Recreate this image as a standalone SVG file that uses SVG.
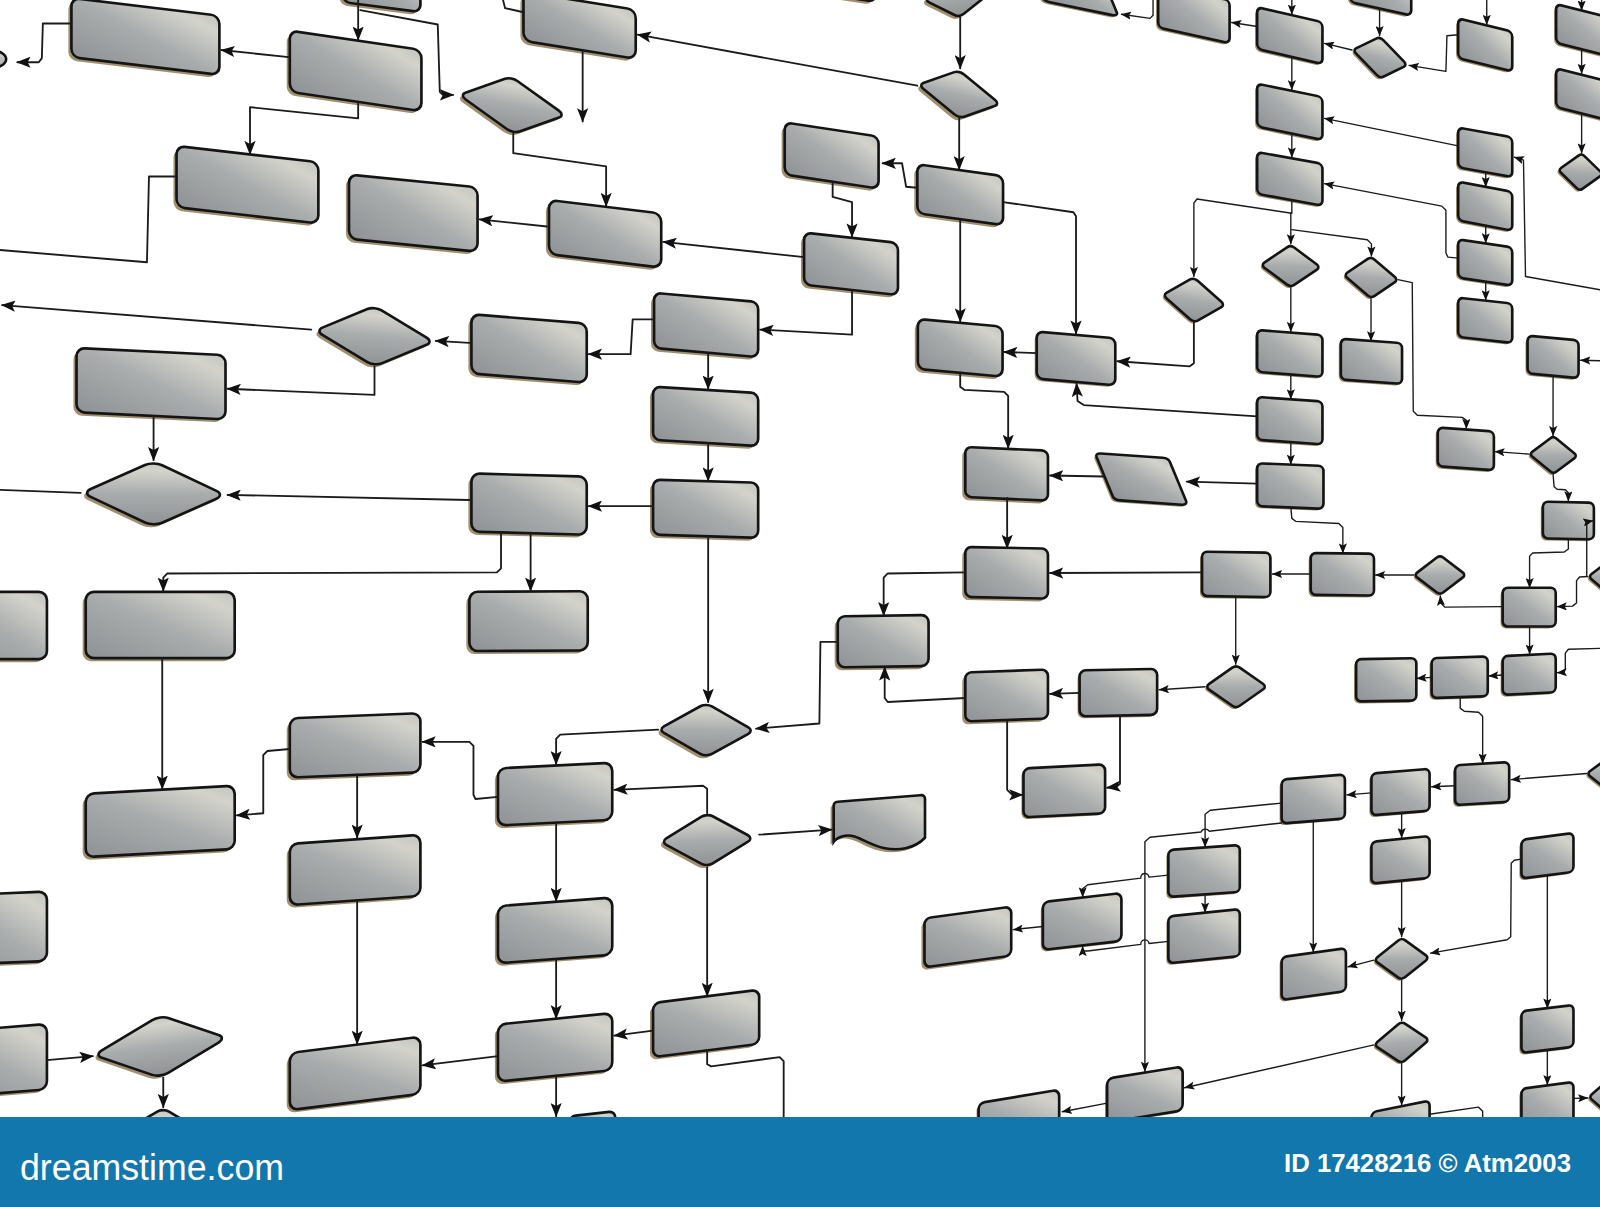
<svg xmlns="http://www.w3.org/2000/svg" width="1600" height="1207" viewBox="0 0 1600 1207">
<defs>
<style>
.b{fill:url(#g);stroke:#141414;stroke-width:2.6}
.d{vector-effect:non-scaling-stroke}
.s{fill:#a09070}
.c,.k{fill:none;stroke:#1b1b1b;stroke-linejoin:round;stroke-linecap:round}
.c{stroke-width:1.8;marker-end:url(#ma)}
.k{stroke-width:1.35;marker-end:url(#ms)}
.n{marker-end:none}
.t1{font-family:"Liberation Sans","DejaVu Sans",sans-serif;fill:#fff}
</style>
<linearGradient id="g" x1="0" y1="1" x2="1" y2="0">
<stop offset="0" stop-color="#8e9294"/><stop offset=".5" stop-color="#a9acad"/><stop offset=".85" stop-color="#d3d3cb"/><stop offset="1" stop-color="#c2c3bf"/>
</linearGradient>
<marker id="ma" viewBox="0 0 14 11" refX="13" refY="5.5" markerWidth="14" markerHeight="11" markerUnits="userSpaceOnUse" orient="auto"><path d="M0,0 L14,5.5 L0,11 L3,5.5 Z" fill="#111"/></marker>
<marker id="ms" viewBox="0 0 10 8" refX="9.5" refY="4" markerWidth="10" markerHeight="8" markerUnits="userSpaceOnUse" orient="auto"><path d="M0,0 L10,4 L0,8 L2,4 Z" fill="#111"/></marker>
</defs>
<rect width="1600" height="1207" fill="#fff"/>
<g transform="scale(1.020408)">
<g id="nodes">
<g id="L1"><ellipse class="s" cx="-13" cy="61" rx="16" ry="9"/><ellipse class="b" cx="-10" cy="58" rx="16" ry="9"/></g>
<g id="L2"><rect class="s" width="106" height="66" rx="8" transform="matrix(1 0 0 1 -63 583)"/><rect class="b" width="106" height="66" rx="8" transform="matrix(1 0 0 1 -60 580)"/></g>
<g id="Lm"><rect class="s" width="106" height="68" rx="8" transform="matrix(1 -.04 0 1 -63 881)"/><rect class="b" width="106" height="68" rx="8" transform="matrix(1 -.04 0 1 -60 878)"/></g>
<g id="L3"><rect class="s" width="106" height="64" rx="8" transform="matrix(1 -.08 0 1 -63 1015)"/><rect class="b" width="106" height="64" rx="8" transform="matrix(1 -.08 0 1 -60 1012)"/></g>
<g id="b1"><rect class="s" width="145" height="58" rx="8" transform="matrix(1 .12 0 1 67 1)"/><rect class="b" width="145" height="58" rx="8" transform="matrix(1 .12 0 1 70 -2)"/></g>
<g id="b2"><rect class="s" width="76" height="52" rx="7" transform="matrix(1 .13 0 1 333 -47)"/><rect class="b" width="76" height="52" rx="7" transform="matrix(1 .13 0 1 336 -50)"/></g>
<g id="b3"><rect class="s" width="129" height="60" rx="8" transform="matrix(1 .147 0 1 281 33)"/><rect class="b" width="129" height="60" rx="8" transform="matrix(1 .147 0 1 284 30)"/></g>
<g id="b4"><rect class="s" width="139" height="60" rx="8" transform="matrix(1 .115 0 1 170 146)"/><rect class="b" width="139" height="60" rx="8" transform="matrix(1 .115 0 1 173 143)"/></g>
<g id="b5"><rect class="s" width="126" height="63" rx="8" transform="matrix(1 .1 0 1 339 174)"/><rect class="b" width="126" height="63" rx="8" transform="matrix(1 .1 0 1 342 171)"/></g>
<g id="b6"><rect class="s" width="110" height="53" rx="8" transform="matrix(1 .12 0 1 535 199)"/><rect class="b" width="110" height="53" rx="8" transform="matrix(1 .12 0 1 538 196)"/></g>
<g id="b7"><rect class="s" width="110" height="48" rx="8" transform="matrix(1 .16 0 1 510 -5)"/><rect class="b" width="110" height="48" rx="8" transform="matrix(1 .16 0 1 513 -8)"/></g>
<g id="bt"><rect class="s" width="78" height="50" rx="7" transform="matrix(1 .15 0 1 777 -57)"/><rect class="b" width="78" height="50" rx="7" transform="matrix(1 .15 0 1 780 -60)"/></g>
<g id="b8"><rect class="s" width="92" height="51" rx="7" transform="matrix(1 .15 0 1 766 123)"/><rect class="b" width="92" height="51" rx="7" transform="matrix(1 .15 0 1 769 120)"/></g>
<g id="b9"><rect class="s" width="84" height="48" rx="7" transform="matrix(1 .138 0 1 896 164)"/><rect class="b" width="84" height="48" rx="7" transform="matrix(1 .138 0 1 899 161)"/></g>
<g id="b10"><rect class="s" width="92" height="51" rx="7" transform="matrix(1 .11 0 1 785 231)"/><rect class="b" width="92" height="51" rx="7" transform="matrix(1 .11 0 1 788 228)"/></g>
<g id="b11"><rect class="s" width="83" height="49" rx="7" transform="matrix(1 .09 0 1 896.5 315.6)"/><rect class="b" width="83" height="49" rx="7" transform="matrix(1 .09 0 1 899.5 312.6)"/></g>
<g id="b12"><rect class="s" width="77" height="46" rx="6" transform="matrix(1 .085 0 1 1014 327)"/><rect class="b" width="77" height="46" rx="6" transform="matrix(1 .085 0 1 1016 325)"/></g>
<g id="b13"><rect class="s" width="102" height="54" rx="7" transform="matrix(1 .088 0 1 638 290)"/><rect class="b" width="102" height="54" rx="7" transform="matrix(1 .088 0 1 641 287)"/></g>
<g id="b14"><rect class="s" width="113" height="58" rx="8" transform="matrix(1 .08 0 1 459 311)"/><rect class="b" width="113" height="58" rx="8" transform="matrix(1 .08 0 1 462 308)"/></g>
<g id="b15"><rect class="s" width="103" height="52" rx="7" transform="matrix(1 .06 0 1 637 382)"/><rect class="b" width="103" height="52" rx="7" transform="matrix(1 .06 0 1 640 379)"/></g>
<g id="b16"><rect class="s" width="146" height="63" rx="8" transform="matrix(1 .048 0 1 72 344)"/><rect class="b" width="146" height="63" rx="8" transform="matrix(1 .048 0 1 75 341)"/></g>
<g id="b17"><rect class="s" width="113" height="57" rx="8" transform="matrix(1 .027 0 1 459 467)"/><rect class="b" width="113" height="57" rx="8" transform="matrix(1 .027 0 1 462 464)"/></g>
<g id="b18"><rect class="s" width="103" height="54" rx="7" transform="matrix(1 .03 0 1 637 473)"/><rect class="b" width="103" height="54" rx="7" transform="matrix(1 .03 0 1 640 470)"/></g>
<g id="b19"><rect class="s" width="146" height="65" rx="8" transform="matrix(1 0 0 1 81 583)"/><rect class="b" width="146" height="65" rx="8" transform="matrix(1 0 0 1 84 580)"/></g>
<g id="b20"><rect class="s" width="116" height="58" rx="8" transform="matrix(1 -.005 0 1 457 583)"/><rect class="b" width="116" height="58" rx="8" transform="matrix(1 -.005 0 1 460 580)"/></g>
<g id="b21"><rect class="s" width="146" height="62" rx="8" transform="matrix(1 -.055 0 1 81 781)"/><rect class="b" width="146" height="62" rx="8" transform="matrix(1 -.055 0 1 84 778)"/></g>
<g id="b22"><rect class="s" width="128" height="58" rx="8" transform="matrix(1 -.04 0 1 281 707)"/><rect class="b" width="128" height="58" rx="8" transform="matrix(1 -.04 0 1 284 704)"/></g>
<g id="b23"><rect class="s" width="128" height="60" rx="8" transform="matrix(1 -.07 0 1 281 830)"/><rect class="b" width="128" height="60" rx="8" transform="matrix(1 -.07 0 1 284 827)"/></g>
<g id="b24"><rect class="s" width="112" height="56" rx="8" transform="matrix(1 -.05 0 1 485 756)"/><rect class="b" width="112" height="56" rx="8" transform="matrix(1 -.05 0 1 488 753)"/></g>
<g id="b25"><rect class="s" width="112" height="56" rx="8" transform="matrix(1 -.075 0 1 485 891)"/><rect class="b" width="112" height="56" rx="8" transform="matrix(1 -.075 0 1 488 888)"/></g>
<g id="b26"><rect class="s" width="128" height="56" rx="8" transform="matrix(1 -.125 0 1 281 1035)"/><rect class="b" width="128" height="56" rx="8" transform="matrix(1 -.125 0 1 284 1032)"/></g>
<g id="b27"><rect class="s" width="112" height="56" rx="8" transform="matrix(1 -.1 0 1 485 1007)"/><rect class="b" width="112" height="56" rx="8" transform="matrix(1 -.1 0 1 488 1004)"/></g>
<g id="b85"><rect class="s" width="45" height="40" rx="6" transform="matrix(1 -.11 0 1 555 1097)"/><rect class="b" width="45" height="40" rx="6" transform="matrix(1 -.11 0 1 558 1094)"/></g>
<g id="b28"><rect class="s" width="104" height="53" rx="7" transform="matrix(1 -.125 0 1 637 986)"/><rect class="b" width="104" height="53" rx="7" transform="matrix(1 -.125 0 1 640 983)"/></g>
<g id="b29"><rect class="s" width="89" height="50" rx="7" transform="matrix(1 -.015 0 1 818 607)"/><rect class="b" width="89" height="50" rx="7" transform="matrix(1 -.015 0 1 821 604)"/></g>
<g id="b30"><rect class="s" width="81" height="49" rx="6" transform="matrix(1 .02 0 1 943 539)"/><rect class="b" width="81" height="49" rx="6" transform="matrix(1 .02 0 1 946 536)"/></g>
<g id="b31"><rect class="s" width="81" height="48" rx="6" transform="matrix(1 -.035 0 1 943 662)"/><rect class="b" width="81" height="48" rx="6" transform="matrix(1 -.035 0 1 946 659)"/></g>
<g id="b32"><rect class="s" width="81" height="49" rx="6" transform="matrix(1 .045 0 1 943 441)"/><rect class="b" width="81" height="49" rx="6" transform="matrix(1 .045 0 1 946 438)"/></g>
<g id="b33"><rect class="s" width="67" height="43.5" rx="5" transform="matrix(1 .015 0 1 1176 542.6)"/><rect class="b" width="67" height="43.5" rx="5" transform="matrix(1 .015 0 1 1178 540.6)"/></g>
<g id="b35"><rect class="s" width="76" height="45" rx="6" transform="matrix(1 -.02 0 1 1056 659)"/><rect class="b" width="76" height="45" rx="6" transform="matrix(1 -.02 0 1 1058 657)"/></g>
<g id="b36"><rect class="s" width="80" height="48" rx="6" transform="matrix(1 -.05 0 1 1001 755)"/><rect class="b" width="80" height="48" rx="6" transform="matrix(1 -.05 0 1 1003 753)"/></g>
<g id="b37"><path class="s" transform="translate(-3 3)" d="M817,825 L817,790 Q817,786 821,785.7 L902,779.3 Q906.5,779 906.5,783 L906.5,821 C896,832 880,834 866,831 C848,827 840,817 828,819 C823,820 819,822 817,825 Z"/><path class="b" d="M817,825 L817,790 Q817,786 821,785.7 L902,779.3 Q906.5,779 906.5,783 L906.5,821 C896,832 880,834 866,831 C848,827 840,817 828,819 C823,820 819,822 817,825 Z"/></g>
<g id="b39"><rect class="s" width="77" height="47" rx="6" transform="matrix(1 -.115 0 1 1020 886)"/><rect class="b" width="77" height="47" rx="6" transform="matrix(1 -.115 0 1 1022 884)"/></g>
<g id="b40"><rect class="s" width="85" height="48" rx="6" transform="matrix(1 -.135 0 1 903 903)"/><rect class="b" width="85" height="48" rx="6" transform="matrix(1 -.135 0 1 906 900)"/></g>
<g id="b41"><rect class="s" width="74" height="43" rx="6" transform="matrix(1 -.16 0 1 1083 1059)"/><rect class="b" width="74" height="43" rx="6" transform="matrix(1 -.16 0 1 1085 1057)"/></g>
<g id="b43"><rect class="s" width="62" height="43" rx="5" transform="matrix(1 -.08 0 1 1254 766)"/><rect class="b" width="62" height="43" rx="5" transform="matrix(1 -.08 0 1 1256 764)"/></g>
<g id="b44"><rect class="s" width="57" height="41" rx="5" transform="matrix(1 -.08 0 1 1342 760)"/><rect class="b" width="57" height="41" rx="5" transform="matrix(1 -.08 0 1 1344 758)"/></g>
<g id="b45"><rect class="s" width="53" height="39" rx="5" transform="matrix(1 -.06 0 1 1424 752)"/><rect class="b" width="53" height="39" rx="5" transform="matrix(1 -.06 0 1 1426 750)"/></g>
<g id="b46"><rect class="s" width="70" height="46" rx="5" transform="matrix(1 -.07 0 1 1143 835)"/><rect class="b" width="70" height="46" rx="5" transform="matrix(1 -.07 0 1 1145 833)"/></g>
<g id="b47"><rect class="s" width="70" height="46" rx="5" transform="matrix(1 -.1 0 1 1143 900)"/><rect class="b" width="70" height="46" rx="5" transform="matrix(1 -.1 0 1 1145 898)"/></g>
<g id="b48"><rect class="s" width="55" height="39" rx="5" transform="matrix(1 -.03 0 1 1401 647)"/><rect class="b" width="55" height="39" rx="5" transform="matrix(1 -.03 0 1 1403 645)"/></g>
<g id="b49"><rect class="s" width="63" height="42" rx="5" transform="matrix(1 -.14 0 1 1254 940)"/><rect class="b" width="63" height="42" rx="5" transform="matrix(1 -.14 0 1 1256 938)"/></g>
<g id="b50"><rect class="s" width="57" height="41" rx="5" transform="matrix(1 -.1 0 1 1342 827)"/><rect class="b" width="57" height="41" rx="5" transform="matrix(1 -.1 0 1 1344 825)"/></g>
<g id="b51"><rect class="s" width="57" height="40" rx="5" transform="matrix(1 -.2 0 1 1342 1092)"/><rect class="b" width="57" height="40" rx="5" transform="matrix(1 -.2 0 1 1344 1090)"/></g>
<g id="b52"><rect class="s" width="51" height="38" rx="5" transform="matrix(1 -.13 0 1 1489 825)"/><rect class="b" width="51" height="38" rx="5" transform="matrix(1 -.13 0 1 1491 823)"/></g>
<g id="b53"><rect class="s" width="51" height="41" rx="5" transform="matrix(1 -.12 0 1 1489 993)"/><rect class="b" width="51" height="41" rx="5" transform="matrix(1 -.12 0 1 1491 991)"/></g>
<g id="b54"><rect class="s" width="51" height="45" rx="5" transform="matrix(1 -.13 0 1 1489 1069)"/><rect class="b" width="51" height="45" rx="5" transform="matrix(1 -.13 0 1 1491 1067)"/></g>
<g id="b55"><rect class="s" width="79" height="45" rx="6" transform="matrix(1 -.165 0 1 957 1083)"/><rect class="b" width="79" height="45" rx="6" transform="matrix(1 -.165 0 1 959 1081)"/></g>
<g id="b56"><rect class="s" width="70" height="42" rx="5" transform="matrix(1 .22 0 1 1133 -13)"/><rect class="b" width="70" height="42" rx="5" transform="matrix(1 .22 0 1 1135 -15)"/></g>
<g id="b57"><rect class="s" width="64" height="41" rx="5" transform="matrix(1 .23 0 1 1230 9)"/><rect class="b" width="64" height="41" rx="5" transform="matrix(1 .23 0 1 1232 7)"/></g>
<g id="b58"><rect class="s" width="60" height="42" rx="5" transform="matrix(1 .22 0 1 1321 -38)"/><rect class="b" width="60" height="42" rx="5" transform="matrix(1 .22 0 1 1323 -40)"/></g>
<g id="b59"><rect class="s" width="53" height="39" rx="5" transform="matrix(1 .245 0 1 1427 20)"/><rect class="b" width="53" height="39" rx="5" transform="matrix(1 .245 0 1 1429 18)"/></g>
<g id="b60"><rect class="s" width="60" height="38" rx="5" transform="matrix(1 .25 0 1 1523 6)"/><rect class="b" width="60" height="38" rx="5" transform="matrix(1 .25 0 1 1525 4)"/></g>
<g id="b61"><rect class="s" width="60" height="38" rx="5" transform="matrix(1 .25 0 1 1523 69)"/><rect class="b" width="60" height="38" rx="5" transform="matrix(1 .25 0 1 1525 67)"/></g>
<g id="b62"><rect class="s" width="64" height="42" rx="5" transform="matrix(1 .205 0 1 1230 84)"/><rect class="b" width="64" height="42" rx="5" transform="matrix(1 .205 0 1 1232 82)"/></g>
<g id="b63"><rect class="s" width="64" height="41" rx="5" transform="matrix(1 .18 0 1 1230 151)"/><rect class="b" width="64" height="41" rx="5" transform="matrix(1 .18 0 1 1232 149)"/></g>
<g id="b64"><rect class="s" width="53" height="39" rx="5" transform="matrix(1 .18 0 1 1427 127)"/><rect class="b" width="53" height="39" rx="5" transform="matrix(1 .18 0 1 1429 125)"/></g>
<g id="b65"><rect class="s" width="53" height="38" rx="5" transform="matrix(1 .19 0 1 1427 180)"/><rect class="b" width="53" height="38" rx="5" transform="matrix(1 .19 0 1 1429 178)"/></g>
<g id="b66"><rect class="s" width="53" height="37.5" rx="5" transform="matrix(1 .15 0 1 1427 236.5)"/><rect class="b" width="53" height="37.5" rx="5" transform="matrix(1 .15 0 1 1429 234.5)"/></g>
<g id="b67"><rect class="s" width="53" height="38.5" rx="5" transform="matrix(1 .11 0 1 1427 293.7)"/><rect class="b" width="53" height="38.5" rx="5" transform="matrix(1 .11 0 1 1429 291.7)"/></g>
<g id="b68"><rect class="s" width="64" height="41" rx="5" transform="matrix(1 .077 0 1 1230 325.4)"/><rect class="b" width="64" height="41" rx="5" transform="matrix(1 .077 0 1 1232 323.4)"/></g>
<g id="b69"><rect class="s" width="64" height="42" rx="5" transform="matrix(1 .07 0 1 1230 391)"/><rect class="b" width="64" height="42" rx="5" transform="matrix(1 .07 0 1 1232 389)"/></g>
<g id="b70"><rect class="s" width="65" height="42" rx="5" transform="matrix(1 .04 0 1 1230 456)"/><rect class="b" width="65" height="42" rx="5" transform="matrix(1 .04 0 1 1232 454)"/></g>
<g id="b71"><rect class="s" width="62" height="41" rx="5" transform="matrix(1 .01 0 1 1282.5 544)"/><rect class="b" width="62" height="41" rx="5" transform="matrix(1 .01 0 1 1284.5 542)"/></g>
<g id="b72"><rect class="s" width="55" height="38" rx="5" transform="matrix(1 .07 0 1 1407 421)"/><rect class="b" width="55" height="38" rx="5" transform="matrix(1 .07 0 1 1409 419)"/></g>
<g id="b73"><rect class="s" width="60" height="40" rx="5" transform="matrix(1 .07 0 1 1312 334)"/><rect class="b" width="60" height="40" rx="5" transform="matrix(1 .07 0 1 1314 332)"/></g>
<g id="b74"><rect class="s" width="50" height="37" rx="5" transform="matrix(1 .09 0 1 1495 331)"/><rect class="b" width="50" height="37" rx="5" transform="matrix(1 .09 0 1 1497 329)"/></g>
<g id="b75"><rect class="s" width="50" height="36" rx="5" transform="matrix(1 .02 0 1 1510 493.6)"/><rect class="b" width="50" height="36" rx="5" transform="matrix(1 .02 0 1 1512 491.6)"/></g>
<g id="b76"><rect class="s" width="52" height="38" rx="5" transform="matrix(1 0 0 1 1470.6 578)"/><rect class="b" width="52" height="38" rx="5" transform="matrix(1 0 0 1 1472.6 576)"/></g>
<g id="b77"><rect class="s" width="59" height="41.5" rx="5" transform="matrix(1 -.017 0 1 1327 648)"/><rect class="b" width="59" height="41.5" rx="5" transform="matrix(1 -.017 0 1 1329 646)"/></g>
<g id="b78"><rect class="s" width="52" height="38" rx="5" transform="matrix(1 -.05 0 1 1470.6 645)"/><rect class="b" width="52" height="38" rx="5" transform="matrix(1 -.05 0 1 1472.6 643)"/></g>
<g id="p1"><rect class="s" width="100" height="100" rx="8" transform="matrix(.73 .15 .19 .46 1002 -43)"/><rect class="b d" width="100" height="100" rx="8" transform="matrix(.73 .15 .19 .46 1004 -45)"/></g>
<g id="p2"><rect class="s" width="100" height="100" rx="8" transform="matrix(.72 .05 .19 .46 1071 446)"/><rect class="b d" width="100" height="100" rx="8" transform="matrix(.72 .05 .19 .46 1073 444)"/></g>
<g id="d0"><rect class="s" width="100" height="100" rx="12" transform="matrix(.38 -.30 .34 .17 903 3)"/><rect class="b d" width="100" height="100" rx="12" transform="matrix(.38 -.30 .34 .17 906 0)"/></g>
<g id="d1"><rect class="s" width="100" height="100" rx="12" transform="matrix(.51 -.18 .53 .38 447 96)"/><rect class="b d" width="100" height="100" rx="12" transform="matrix(.51 -.18 .53 .38 450 93)"/></g>
<g id="d2"><rect class="s" width="100" height="100" rx="12" transform="matrix(.40 -.14 .40 .33 897 86)"/><rect class="b d" width="100" height="100" rx="12" transform="matrix(.40 -.14 .40 .33 900 83)"/></g>
<g id="d3"><rect class="s" width="100" height="100" rx="12" transform="matrix(.58 -.24 .58 .35 306 327)"/><rect class="b d" width="100" height="100" rx="12" transform="matrix(.58 -.24 .58 .35 309 324)"/></g>
<g id="d4"><rect class="s" width="100" height="100" rx="12" transform="matrix(.70 -.31 .70 .33 77.5 486)"/><rect class="b d" width="100" height="100" rx="12" transform="matrix(.70 -.31 .70 .33 80.5 483)"/></g>
<g id="d5"><rect class="s" width="100" height="100" rx="12" transform="matrix(.47 -.26 .47 .27 642 718)"/><rect class="b d" width="100" height="100" rx="12" transform="matrix(.47 -.26 .47 .27 645 715)"/></g>
<g id="d6"><rect class="s" width="100" height="100" rx="12" transform="matrix(.455 -.28 .455 .245 644.5 828)"/><rect class="b d" width="100" height="100" rx="12" transform="matrix(.455 -.28 .455 .245 647.5 825)"/></g>
<g id="d7"><rect class="s" width="100" height="100" rx="12" transform="matrix(.65 -.39 .65 .22 89 1037)"/><rect class="b d" width="100" height="100" rx="12" transform="matrix(.65 -.39 .65 .22 92 1034)"/></g>
<g id="d8"><rect class="s" width="100" height="100" rx="12" transform="matrix(.45 -.26 .47 .28 112 1115)"/><rect class="b d" width="100" height="100" rx="12" transform="matrix(.45 -.26 .47 .28 115 1112)"/></g>
<g id="d9"><rect class="s" width="100" height="100" rx="12" transform="matrix(.25 -.18 .25 .20 1553 760)"/><rect class="b d" width="100" height="100" rx="12" transform="matrix(.25 -.18 .25 .20 1555 758)"/></g>
<g id="d10"><rect class="s" width="100" height="100" rx="12" transform="matrix(.271 -.218 .271 .196 1344.5 942.8)"/><rect class="b d" width="100" height="100" rx="12" transform="matrix(.271 -.218 .271 .196 1346.5 940.8)"/></g>
<g id="d11"><rect class="s" width="100" height="100" rx="12" transform="matrix(.271 -.23 .271 .18 1344.5 1026)"/><rect class="b d" width="100" height="100" rx="12" transform="matrix(.271 -.23 .271 .18 1346.5 1024)"/></g>
<g id="d12"><rect class="s" width="100" height="100" rx="12" transform="matrix(.23 -.2 .23 .2 1555 1077)"/><rect class="b d" width="100" height="100" rx="12" transform="matrix(.23 -.2 .23 .2 1557 1075)"/></g>
<g id="d13"><rect class="s" width="100" height="100" rx="12" transform="matrix(.268 -.13 .268 .278 1323.6 51)"/><rect class="b d" width="100" height="100" rx="12" transform="matrix(.268 -.13 .268 .278 1325.6 49)"/></g>
<g id="d14"><rect class="s" width="100" height="100" rx="12" transform="matrix(.23 -.163 .21 .204 1525 168.6)"/><rect class="b d" width="100" height="100" rx="12" transform="matrix(.23 -.163 .21 .204 1527 166.6)"/></g>
<g id="d15"><rect class="s" width="100" height="100" rx="12" transform="matrix(.306 -.172 .306 .272 1137.4 291)"/><rect class="b d" width="100" height="100" rx="12" transform="matrix(.306 -.172 .306 .272 1139.4 289)"/></g>
<g id="d16"><rect class="s" width="100" height="100" rx="12" transform="matrix(.293 -.197 .293 .219 1233.5 261.7)"/><rect class="b d" width="100" height="100" rx="12" transform="matrix(.293 -.197 .293 .219 1235.5 259.7)"/></g>
<g id="d17"><rect class="s" width="100" height="100" rx="12" transform="matrix(.266 -.18 .266 .228 1315 271.5)"/><rect class="b d" width="100" height="100" rx="12" transform="matrix(.266 -.18 .266 .228 1317 269.5)"/></g>
<g id="d18"><rect class="s" width="100" height="100" rx="12" transform="matrix(.255 -.195 .255 .195 1383.7 565.5)"/><rect class="b d" width="100" height="100" rx="12" transform="matrix(.255 -.195 .255 .195 1385.7 563.5)"/></g>
<g id="d19"><rect class="s" width="100" height="100" rx="12" transform="matrix(.303 -.213 .303 .212 1179 675)"/><rect class="b d" width="100" height="100" rx="12" transform="matrix(.303 -.213 .303 .212 1181 673)"/></g>
<g id="d20"><rect class="s" width="100" height="100" rx="12" transform="matrix(.236 -.177 .236 .195 1496.7 447)"/><rect class="b d" width="100" height="100" rx="12" transform="matrix(.236 -.177 .236 .195 1498.7 445)"/></g>
<g id="d21"><rect class="s" width="100" height="100" rx="12" transform="matrix(.234 -.18 .234 .2 1554.6 567)"/><rect class="b d" width="100" height="100" rx="12" transform="matrix(.234 -.18 .234 .2 1556.6 565)"/></g>
</g>
<g id="connectors">
<path class="c" d="M68,23 L42,23 L41,57 L38,61 L17,61"/>
<path class="c" d="M283,56 L217,49"/>
<path class="c" d="M351,0 L351,39"/>
<path class="c" d="M353,10 L429,24 L431,90 L434,93 L444,93"/>
<path class="c" d="M351,100 L351,116 L245,105 L245,151"/>
<path class="c n" d="M171,173 L146,173 L144,257 L0,245"/>
<path class="c" d="M536,222 L470,215"/>
<path class="c" d="M503,131 L503,150 L594,163 L594,202"/>
<path class="c" d="M571,50 L571,119"/>
<path class="c" d="M899,84 L625,34"/>
<path class="c n" d="M493,0 L495,8 L513,12"/>
<path class="c" d="M941,17 L941,67"/>
<path class="c" d="M940,116 L940,166"/>
<path class="c" d="M899,184 L888,183 L884,160 L865,160"/>
<path class="c" d="M816,179 L816,193 L835,198 L835,232"/>
<path class="c" d="M983,198 L1052,208 L1054.5,212 L1054.5,327"/>
<path class="c" d="M941,215 L941,315"/>
<path class="c" d="M788,252 L650,237"/>
<path class="c" d="M835,284 L835,328 L745,323"/>
<path class="c" d="M641,313 L620,313 L618,347 L577,347"/>
<path class="c" d="M694,346 L694,381"/>
<path class="c" d="M460,336 L427,334"/>
<path class="c" d="M305,323 L2,299"/>
<path class="c" d="M367,359 L367,387 L223,381"/>
<path class="c" d="M150.5,408 L150.5,451"/>
<path class="c n" d="M79,483 L0,480"/>
<path class="c" d="M460,490 L223,485"/>
<path class="c" d="M640,496 L577,496"/>
<path class="c" d="M491,522 L491,557 L487,561 L164,562 L160,566 L160,579"/>
<path class="c" d="M520,522 L520,579"/>
<path class="c" d="M694,434 L694,471"/>
<path class="c" d="M694,526 L694,688"/>
<path class="c" d="M821,629 L804,629 L803,709 L741,714"/>
<path class="c" d="M645,715 L549,720 L545,724 L545,749"/>
<path class="c" d="M693,797 L693,773 L689,770 L602,774"/>
<path class="c" d="M159,645 L159,773"/>
<path class="c" d="M284,734 L262,736 L258,740 L258,797 L232,799"/>
<path class="c" d="M350,759 L350,821"/>
<path class="c" d="M488,781 L466,783 L464,779 L464,731 L460,727 L414,727"/>
<path class="c" d="M545,806 L545,883"/>
<path class="c" d="M350,882 L350,1023"/>
<path class="c" d="M545,940 L545,998"/>
<path class="c" d="M488,1035 L414,1044"/>
<path class="c" d="M640,1010 L602,1015"/>
<path class="c" d="M545,1054 L545,1094"/>
<path class="c" d="M46,1039 L91,1035"/>
<path class="c" d="M160,1056 L160,1085"/>
<path class="c" d="M744,818 L815,813"/>
<path class="c" d="M693,850 L693,976"/>
<path class="c n" d="M693,1029 L693,1043 L697,1045 L764,1036 L768,1040 L768,1100"/>
<path class="c" d="M946,561 L870,562 L866,566 L866,603"/>
<path class="c" d="M946,684 L870,688 L867,684 L867,654"/>
<path class="c" d="M987,488 L987,537"/>
<path class="c" d="M941,365 L941,379 L945,382 L984,384 L988,388 L988,439"/>
<path class="c" d="M1082,467 L1029,466"/>
<path class="c" d="M1178,561 L1029,561.5"/>
<path class="c" d="M1016,346 L984,345"/>
<path class="c" d="M1058,679 L1029,680"/>
<path class="c" d="M987,707 L987,774 L992,779 L1002,779"/>
<path class="c" d="M1097.6,701 L1097.6,768 L1094,771 L1085,772"/>
<path class="c" d="M1170,316 L1170,356 L1166,359 L1095,354"/>
<path class="c" d="M1232,408 L1062,397 L1056,393 L1055,376"/>
<path class="c" d="M1232,474 L1163,472"/>
<path class="k" d="M1130,0 L1130,15 L1127,18 L1099,14"/>
<path class="k" d="M1266,0 L1266,14"/>
<path class="k" d="M1232,26 L1207,22"/>
<path class="k" d="M1325,49 L1298,42.5"/>
<path class="k" d="M1352,9 L1352,35"/>
<path class="k" d="M1457,0 L1457,24"/>
<path class="k" d="M1429,34 L1418,35 L1417,70 L1381,64"/>
<path class="k" d="M1550,0 L1550,10"/>
<path class="k" d="M1550,48 L1550,72"/>
<path class="k" d="M1550,111 L1550,150"/>
<path class="k" d="M1266,56 L1266,88"/>
<path class="k" d="M1266,131 L1266,154"/>
<path class="k" d="M1429,143 L1298,116"/>
<path class="k" d="M1456,169 L1456,183"/>
<path class="k" d="M1456,221 L1456,238"/>
<path class="k" d="M1456,276 L1456,294"/>
<path class="k" d="M1429,253 L1419,252 L1417,248 L1417,206 L1413,202 L1298,180"/>
<path class="k" d="M1266,196 L1266,209 L1173,195 L1170,199 L1170,271"/>
<path class="k" d="M1265,209 L1265,239"/>
<path class="k" d="M1266,225 L1340,235 L1344,239 L1344,251"/>
<path class="k" d="M1568,284 L1495,271 L1493,157 L1484,154"/>
<path class="k" d="M1265,282 L1265,325"/>
<path class="k" d="M1265,367 L1265,391"/>
<path class="k" d="M1265,433 L1265,455"/>
<path class="k" d="M1265,497 L1266,508 L1270,511 L1312,513 L1316,517 L1316,542"/>
<path class="k" d="M1284.5,562.5 L1247,562.5"/>
<path class="k" d="M1385.7,563.5 L1348,563.5"/>
<path class="k" d="M1211,585 L1211,651"/>
<path class="k" d="M1181,673 L1136,676"/>
<path class="k" d="M1343.6,292 L1343.6,334"/>
<path class="k" d="M1370,274 L1384,277 L1385,403 L1389,407 L1433,409 L1437,412 L1437,420"/>
<path class="k" d="M1568,353.5 L1549,353"/>
<path class="k" d="M1522,368 L1522,427"/>
<path class="k" d="M1498.7,445 L1465,442.6"/>
<path class="k" d="M1522,464.5 L1523,477 L1526,479.5 L1534,480 L1537,483 L1537,491"/>
<path class="k" d="M1537,528 L1537,538 L1533,541 L1502,542 L1499,545 L1499,576"/>
<path class="k" d="M1556,565 L1548,565.5 L1545,569 L1545,591 L1541,594 L1526,594.5"/>
<path class="k" d="M1555,564 L1555,514 L1558,511 L1561,510.5"/>
<path class="k" d="M1472.6,594.5 L1416,595 L1412,591 L1411.5,584"/>
<path class="k" d="M1499,614 L1499,641"/>
<path class="k" d="M1472.6,661.5 L1459,662.5"/>
<path class="k" d="M1403,663.8 L1388.5,664.8"/>
<path class="k" d="M1568,635.4 L1537,636.3 L1534,640 L1534,656 L1530,659 L1526,659.2"/>
<path class="k" d="M1431,683 L1431,694 L1435,697 L1449,698 L1453,702 L1453,748"/>
<path class="k" d="M1555,758 L1481,764"/>
<path class="k" d="M1426,770 L1403,771"/>
<path class="k" d="M1344,777 L1320,779"/>
<path class="k" d="M1256,787 L1186,794 L1181,798 L1181,830"/>
<path class="k" d="M1256,806.5 L1185,814.6 A4.5,4.5 0 0 0 1177,815.4 L1127,820.5 L1122,825 L1122,1050"/>
<path class="k" d="M1145,857.6 L1126,859.6 A4,4 0 0 0 1118,860.5 L1066,867 L1061,871 L1061,879"/>
<path class="k" d="M1145,922.5 L1126,924.6 A4,4 0 0 0 1118,925.5 L1066,932 L1061,932 L1061,927.5"/>
<path class="k" d="M1022,908 L993,911"/>
<path class="k" d="M1181,876 L1181,894"/>
<path class="k" d="M1287,804 L1287,933"/>
<path class="k" d="M1373.6,796 L1373.6,821"/>
<path class="k" d="M1373.6,863 L1373.6,918"/>
<path class="k" d="M1346.5,941 L1321,947.5"/>
<path class="k" d="M1373.6,960.4 L1373.6,1000"/>
<path class="k" d="M1346.5,1024 L1161,1066"/>
<path class="k" d="M1373.6,1042 L1373.6,1083"/>
<path class="k n" d="M1401,1092 L1449,1085 L1453,1089 L1453,1100"/>
<path class="k" d="M1491,842 L1484,843 L1481,846 L1480.5,918 L1477,921 L1402,934"/>
<path class="k" d="M1516.4,857 L1516.4,988"/>
<path class="k" d="M1516.4,1029 L1516.4,1063"/>
<path class="k" d="M1542,1076.4 L1556,1076"/>
<path class="k" d="M1085,1081 L1041,1089.5"/>
</g>
</g>
<g id="banner">
<rect x="0" y="1117" width="1600" height="90" fill="#1277ad"/>
<text class="t1" x="20" y="1180" font-size="36" textLength="264" lengthAdjust="spacingAndGlyphs">dreamstime.com</text>
<text class="t1" x="1284" y="1172" font-size="25" font-weight="bold" textLength="287" lengthAdjust="spacingAndGlyphs">ID 17428216 © Atm2003</text>
</g>
</svg>
